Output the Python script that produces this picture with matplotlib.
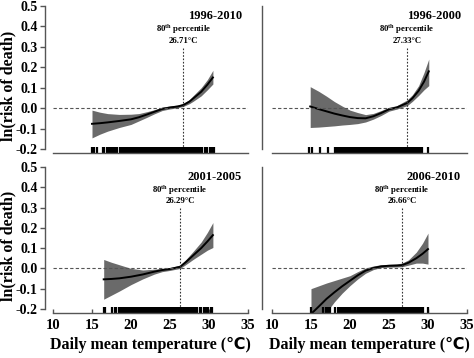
import matplotlib; matplotlib.use('Agg')
import matplotlib.pyplot as plt
import matplotlib.transforms as mtransforms

plt.rcParams['font.family'] = ['Liberation Serif', 'DejaVu Sans']
plt.rcParams['font.weight'] = 'bold'
plt.rcParams['mathtext.fontset'] = 'custom'
plt.rcParams['mathtext.bf'] = 'Liberation Serif:bold'
plt.rcParams['mathtext.rm'] = 'Liberation Serif:bold'

# --- data ----------------------------------------------------------------------
periods = ['1996-2010', '1996-2000', '2001-2005', '2006-2010']
p80 = [26.71, 27.33, 26.29, 26.66]
p80_lbl = ['26.71°C', '27.33°C', '26.29°C', '26.66°C']

t_9610 = [15.0, 16.0, 17.0, 18.5, 20.0, 21.0, 22.0, 23.0, 24.0, 25.0, 26.0, 26.7, 27.5, 28.0, 29.0, 29.8, 30.5]
c_9610 = [-0.077, -0.074, -0.070, -0.063, -0.055, -0.045, -0.032, -0.018, -0.004, 0.003, 0.008, 0.015, 0.032, 0.048, 0.080, 0.115, 0.150]
lo_9610 = [-0.146, -0.128, -0.113, -0.095, -0.080, -0.063, -0.046, -0.028, -0.012, -0.004, 0.002, 0.008, 0.022, 0.034, 0.060, 0.090, 0.118]
hi_9610 = [-0.010, -0.020, -0.027, -0.031, -0.030, -0.027, -0.018, -0.008, 0.005, 0.010, 0.015, 0.022, 0.042, 0.062, 0.100, 0.140, 0.185]

t_9600 = [14.9, 16.0, 17.0, 18.0, 19.0, 20.0, 21.0, 22.0, 23.0, 24.0, 25.0, 26.0, 27.33, 28.0, 28.8, 29.5, 30.1]
c_9600 = [0.008, -0.005, -0.016, -0.027, -0.036, -0.044, -0.049, -0.050, -0.040, -0.024, -0.006, 0.003, 0.025, 0.048, 0.085, 0.130, 0.180]
lo_9600 = [-0.095, -0.093, -0.090, -0.087, -0.083, -0.080, -0.076, -0.068, -0.054, -0.036, -0.015, -0.005, 0.012, 0.033, 0.062, 0.090, 0.110]
hi_9600 = [0.105, 0.082, 0.058, 0.032, 0.010, -0.010, -0.022, -0.032, -0.026, -0.012, 0.004, 0.012, 0.040, 0.065, 0.110, 0.175, 0.240]

t_0105 = [16.5, 17.5, 18.5, 20.0, 21.5, 23.0, 24.0, 25.0, 26.3, 27.0, 28.0, 29.0, 29.8, 30.5]
c_0105 = [-0.054, -0.052, -0.049, -0.041, -0.030, -0.016, -0.008, -0.003, 0.008, 0.030, 0.065, 0.100, 0.133, 0.164]
lo_0105 = [-0.152, -0.132, -0.112, -0.080, -0.052, -0.028, -0.016, -0.010, 0.000, 0.018, 0.045, 0.070, 0.090, 0.103]
hi_0105 = [0.044, 0.030, 0.018, 0.000, -0.008, -0.004, 0.000, 0.004, 0.016, 0.042, 0.085, 0.130, 0.178, 0.226]

t_0610 = [15.0, 16.0, 17.0, 18.0, 19.0, 20.0, 21.0, 22.0, 23.0, 24.0, 25.0, 26.0, 26.66, 27.5, 28.5, 29.3, 30.0]
c_0610 = [-0.225, -0.188, -0.150, -0.118, -0.088, -0.061, -0.034, -0.011, 0.002, 0.010, 0.013, 0.014, 0.016, 0.028, 0.050, 0.072, 0.095]
lo_0610 = [-0.330, -0.270, -0.216, -0.165, -0.122, -0.085, -0.052, -0.024, -0.006, 0.004, 0.006, 0.007, 0.008, 0.016, 0.026, 0.026, 0.021]
hi_0610 = [-0.100, -0.086, -0.072, -0.060, -0.048, -0.036, -0.016, 0.002, 0.012, 0.018, 0.020, 0.022, 0.026, 0.042, 0.080, 0.124, 0.174]

# daily observations (rug)
rug_9610 = [15.0, 15.2, 15.6, 16.4, 16.6, 16.9, 17.2, 17.4, 17.7, 17.9, 18.2, 18.6, 18.8, 19.1, 19.3, 19.5,
            19.7, 19.9, 20.1, 20.3, 20.5, 20.7, 20.9, 21.1, 21.3, 21.5, 21.7, 21.9, 22.1, 22.3, 22.5, 22.7,
            22.9, 23.1, 23.3, 23.5, 23.7, 23.9, 24.1, 24.3, 24.5, 24.7, 24.9, 25.1, 25.3, 25.5, 25.7, 25.9,
            26.1, 26.3, 26.5, 26.7, 26.9, 27.1, 27.3, 27.5, 27.7, 27.9, 28.1, 28.3, 28.5, 28.7, 28.9, 29.1,
            29.5, 29.8, 30.1, 30.4, 30.6]
rug_9600 = [14.8, 15.1, 16.2, 17.2, 18.1, 18.3, 18.6, 18.9, 19.1,
            19.4, 19.6, 19.8, 20.0, 20.2, 20.4, 20.6, 20.8, 21.0, 21.2, 21.4, 21.6, 21.8, 22.0, 22.2, 22.4,
            22.6, 22.8, 23.0, 23.2, 23.4, 23.6, 23.8, 24.0, 24.2, 24.4, 24.6, 24.8, 25.0, 25.2, 25.4, 25.6,
            25.8, 26.0, 26.2, 26.4, 26.6, 26.8, 27.0, 27.2, 27.4, 27.6, 27.8, 28.0, 28.2, 28.4, 28.6, 28.8,
            29.0, 29.2, 30.0]
rug_0105 = [16.5, 16.7, 17.6, 17.9, 18.1, 18.4, 18.6, 18.9, 19.1, 19.4, 19.6,
            19.8, 20.0, 20.2, 20.4, 20.6, 20.8, 21.0, 21.2, 21.4, 21.6, 21.8, 22.0, 22.2, 22.4, 22.6, 22.8,
            23.0, 23.2, 23.4, 23.6, 23.8, 24.0, 24.2, 24.4, 24.6, 24.8, 25.0, 25.2, 25.4, 25.6, 25.8, 26.0,
            26.2, 26.4, 26.6, 26.8, 27.0, 27.2, 27.4, 27.6, 27.8, 28.0, 28.2,
            28.5, 28.8, 29.0, 29.3, 29.6, 29.9, 30.2, 30.4]
rug_0610 = [15.0, 16.6, 16.9, 17.2, 17.5, 18.1,
            18.5, 18.7, 18.9, 19.1, 19.3, 19.5, 19.7, 19.9, 20.1, 20.3, 20.5, 20.7, 20.9, 21.1, 21.3, 21.5,
            21.7, 21.9, 22.1, 22.3, 22.5, 22.7, 22.9, 23.1, 23.3, 23.5, 23.7, 23.9, 24.1, 24.3, 24.5, 24.7,
            24.9, 25.1, 25.3, 25.5, 25.7, 25.9, 26.1, 26.3, 26.5, 26.7, 26.9, 27.1, 27.3, 27.5, 27.7, 27.9,
            28.1, 28.3, 28.5, 28.7, 28.9, 29.1, 29.3, 30.0]

temps = [t_9610, t_9600, t_0105, t_0610]
centres = [c_9610, c_9600, c_0105, c_0610]
lows = [lo_9610, lo_9600, lo_0105, lo_0610]
highs = [hi_9610, hi_9600, hi_0105, hi_0610]
rugs = [rug_9610, rug_9600, rug_0105, rug_0610]

xticks = [10, 15, 20, 25, 30, 35]
yticks = [-0.2, -0.1, 0.0, 0.1, 0.2, 0.3, 0.4, 0.5]

# --- figure --------------------------------------------------------------------
fig = plt.figure(figsize=(4.74, 3.58), dpi=100)
pos = [[0.1118, 0.5726, 0.4114, 0.4106], [0.5738, 0.5726, 0.4114, 0.4106],
       [0.1118, 0.1257, 0.4114, 0.4078], [0.5738, 0.1257, 0.4114, 0.4078]]
spc = '#555555'

for i in range(4):
    ax = fig.add_axes(pos[i])
    left, bottom = i % 2 == 0, i >= 2
    ax.fill_between(temps[i], lows[i], highs[i], color='#6a6a6a', lw=0)
    ax.plot(temps[i], centres[i], color='black', lw=1.4)
    ax.axhline(0, color='#555555', lw=0.8, ls=(0, (3, 2)))
    ax.vlines(p80[i], -0.22, 0.30, color='#333333', lw=0.8, ls=(0, (1.5, 1.5)))
    trans = mtransforms.blended_transform_factory(ax.transData, ax.transAxes)
    ax.vlines(rugs[i], 0.0, 0.042, color='black', lw=1.6, transform=trans)
    ax.text(34.2, 0.45, periods[i], ha='right', va='center', fontsize=9, fontweight='bold')
    ax.text(p80[i], 0.388, r'80$^{\mathbf{th}}$ percentile', ha='center', va='center',
            fontsize=6.3, fontweight='bold')
    ax.text(p80[i], 0.33, p80_lbl[i], ha='center', va='center', fontsize=6.3, fontweight='bold')

    ax.set_xlim(10, 35); ax.set_ylim(-0.22, 0.5)
    for s in ['top', 'right']:
        ax.spines[s].set_visible(False)
    ax.spines['left'].set_position(('outward', 6 if left else 7))
    ax.spines['left'].set_bounds(-0.2, 0.5)
    for s in ['left', 'bottom']:
        ax.spines[s].set_color(spc); ax.spines[s].set_linewidth(1.0)
    ax.set_xticks(xticks); ax.set_yticks(yticks)
    if left:
        ax.set_yticklabels(['%.1f' % v for v in yticks], fontsize=10, fontweight='bold')
        ax.tick_params(axis='y', length=3.5, width=1.0, color=spc, pad=1.5)
        ax.set_ylabel('ln(risk of death)', fontsize=11.5, fontweight='bold', va='center')
        ax.yaxis.set_label_coords(-0.23, 0.46)
    else:
        ax.tick_params(axis='y', length=0, labelleft=False)
    if bottom:
        ax.set_xticklabels([str(v) for v in xticks], fontsize=10.5, fontweight='bold')
        ax.tick_params(axis='x', direction='in', length=3, width=1.0, color=spc, pad=4)
        ax.set_xlabel('Daily mean temperature (℃)', fontsize=11.5, fontweight='bold', labelpad=4)
    else:
        ax.tick_params(axis='x', length=0, labelbottom=False)

fig.savefig('out.png', dpi=100)
